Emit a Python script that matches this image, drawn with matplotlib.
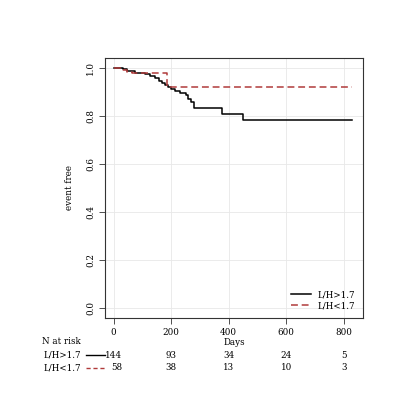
import matplotlib
matplotlib.use("Agg")
import matplotlib.pyplot as plt
from matplotlib.lines import Line2D
import matplotlib.transforms as mtransforms

# Kaplan-Meier step data
black_times = [0, 33, 45, 75, 110, 127, 145, 157, 169, 180, 190, 201, 213, 232, 250, 260, 270, 278, 378, 450, 830]
black_surv = [1.0, 0.995, 0.986, 0.98, 0.975, 0.968, 0.958, 0.948, 0.94, 0.93, 0.92, 0.912, 0.905, 0.896,
              0.886, 0.872, 0.857, 0.834, 0.811, 0.786, 0.786]
red_times = [0, 30, 45, 65, 186, 830]
red_surv = [1.0, 0.993, 0.985, 0.981, 0.92, 0.92]

group_labels = ["L/H>1.7", "L/H<1.7"]
risk_times = [0, 200, 400, 600, 800]
risk_black = [144, 93, 34, 24, 5]
risk_red = [58, 38, 13, 10, 3]
x_ticks = [0, 200, 400, 600, 800]
y_ticks = [0.0, 0.2, 0.4, 0.6, 0.8, 1.0]

RED = "#b03a3a"
FS = 6.3
plt.rcParams['font.family'] = ['DejaVu Serif']

fig = plt.figure(figsize=(4, 4), dpi=100)
ax = fig.add_axes([0.2625, 0.205, 0.645, 0.65])

ax.plot(black_times, black_surv, drawstyle='steps-post', color='black', lw=1.1, label=group_labels[0])
ax.plot(red_times, red_surv, drawstyle='steps-post', color=RED, lw=1.1, ls=(0, (4.5, 2.5)), label=group_labels[1])

ax.set_xlim(-30, 867)
ax.set_ylim(-0.04, 1.042)
ax.set_xticks(x_ticks)
ax.set_yticks(y_ticks)
ax.set_yticklabels([f"{v:.1f}" for v in y_ticks], rotation=90, va='center')
ax.tick_params(labelsize=FS, length=4, width=0.6, color='#333333', pad=3)
ax.grid(True, color='#e8e8e8', lw=0.6)
ax.set_axisbelow(True)
for s in ax.spines.values():
    s.set_linewidth(0.8)
    s.set_color('#333333')
ax.set_ylabel("event free", fontsize=FS, labelpad=9)
ax.set_xlabel("Days", fontsize=FS, labelpad=1)

leg = ax.legend(loc='lower right', frameon=False, fontsize=FS, handlelength=2.2,
                borderaxespad=0.5, labelspacing=0.2, handletextpad=0.8)

# Number at risk table
fig.text(42 / 400, 1 - 341 / 400, "N at risk", fontsize=FS, va='center', ha='left')
trans = mtransforms.blended_transform_factory(ax.transData, fig.transFigure)
rows = [(risk_black, 355, 'black', '-'), (risk_red, 368, RED, (0, (3, 2)))]
for i, (vals, ypix, col, ls) in enumerate(rows):
    yf = 1 - ypix / 400
    fig.text(44 / 400, yf, group_labels[i], fontsize=FS, va='center', ha='left')
    fig.add_artist(Line2D([86 / 400, 105 / 400], [yf, yf], transform=fig.transFigure,
                          color=col, lw=1.0, ls=ls))
    for j, (t, v) in enumerate(zip(risk_times, vals)):
        if j == 0:
            ax.text(122 / 400, yf, str(v), transform=fig.transFigure, fontsize=FS, va='center', ha='right')
        else:
            ax.text(t, yf, str(v), transform=trans, fontsize=FS, va='center', ha='center')

fig.savefig("out.png", dpi=100)
